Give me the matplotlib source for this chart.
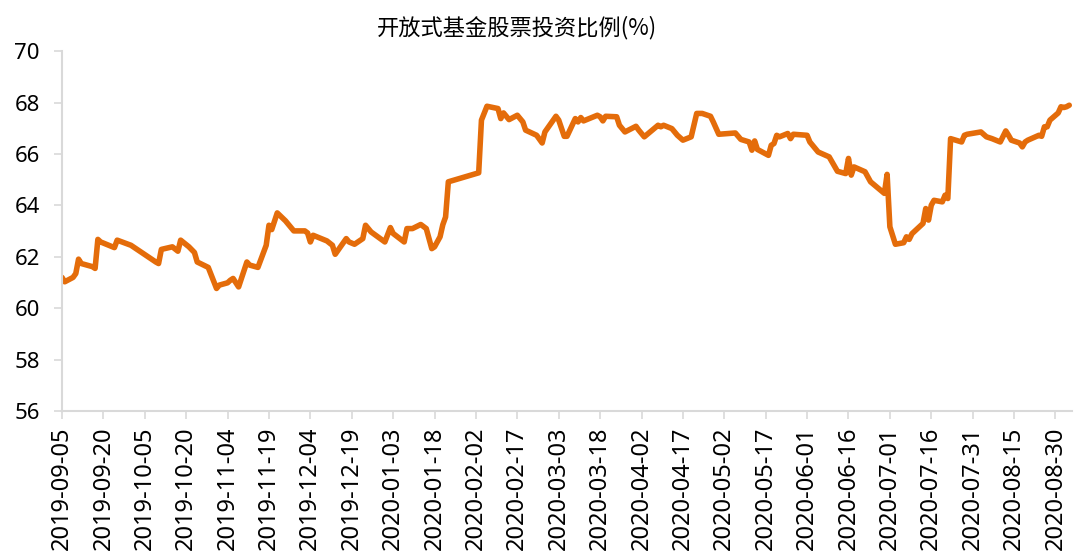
import matplotlib
matplotlib.use("Agg")
import matplotlib.pyplot as plt
import matplotlib.dates as mdates
import pandas as pd

# 开放式基金股票投资比例(%), daily readings
dates = [
    "2019-09-05", "2019-09-06", "2019-09-09", "2019-09-10", "2019-09-11", "2019-09-12",
    "2019-09-16", "2019-09-17", "2019-09-18", "2019-09-19", "2019-09-24", "2019-09-25",
    "2019-09-30", "2019-10-09", "2019-10-10", "2019-10-11", "2019-10-15", "2019-10-17",
    "2019-10-18", "2019-10-21", "2019-10-23", "2019-10-24", "2019-10-28", "2019-10-31",
    "2019-11-01", "2019-11-04", "2019-11-05", "2019-11-06", "2019-11-08", "2019-11-11",
    "2019-11-12", "2019-11-15", "2019-11-18", "2019-11-19", "2019-11-20", "2019-11-22",
    "2019-11-25", "2019-11-28", "2019-12-02", "2019-12-03", "2019-12-04", "2019-12-05",
    "2019-12-10", "2019-12-12", "2019-12-13", "2019-12-17", "2019-12-18", "2019-12-20",
    "2019-12-23", "2019-12-24", "2019-12-26", "2019-12-31", "2020-01-02", "2020-01-03",
    "2020-01-07", "2020-01-08", "2020-01-10", "2020-01-13", "2020-01-15", "2020-01-17",
    "2020-01-18", "2020-01-20", "2020-01-21", "2020-01-22", "2020-01-23", "2020-02-03",
    "2020-02-04", "2020-02-06", "2020-02-10", "2020-02-11", "2020-02-12", "2020-02-14",
    "2020-02-17", "2020-02-19", "2020-02-20", "2020-02-24", "2020-02-26", "2020-02-27",
    "2020-03-02", "2020-03-03", "2020-03-05", "2020-03-06", "2020-03-09", "2020-03-10",
    "2020-03-11", "2020-03-12", "2020-03-17", "2020-03-18", "2020-03-19", "2020-03-20",
    "2020-03-24", "2020-03-25", "2020-03-26", "2020-03-27", "2020-03-31", "2020-04-01",
    "2020-04-03", "2020-04-08", "2020-04-09", "2020-04-10", "2020-04-13", "2020-04-15",
    "2020-04-17", "2020-04-20", "2020-04-22", "2020-04-24", "2020-04-27", "2020-04-28",
    "2020-04-30", "2020-05-06", "2020-05-08", "2020-05-11", "2020-05-12", "2020-05-13",
    "2020-05-14", "2020-05-18", "2020-05-19", "2020-05-20", "2020-05-21", "2020-05-22",
    "2020-05-25", "2020-05-26", "2020-05-27", "2020-06-01", "2020-06-02", "2020-06-05",
    "2020-06-09", "2020-06-12", "2020-06-15", "2020-06-16", "2020-06-17", "2020-06-18",
    "2020-06-22", "2020-06-24", "2020-06-29", "2020-06-30", "2020-07-01", "2020-07-03",
    "2020-07-06", "2020-07-07", "2020-07-08", "2020-07-09", "2020-07-13", "2020-07-14",
    "2020-07-15", "2020-07-16", "2020-07-17", "2020-07-20", "2020-07-21", "2020-07-22",
    "2020-07-23", "2020-07-27", "2020-07-28", "2020-07-29", "2020-08-03", "2020-08-05",
    "2020-08-07", "2020-08-10", "2020-08-12", "2020-08-13", "2020-08-14", "2020-08-17",
    "2020-08-18", "2020-08-19", "2020-08-20", "2020-08-24", "2020-08-25", "2020-08-26",
    "2020-08-27", "2020-08-28", "2020-08-31", "2020-09-01", "2020-09-02", "2020-09-03",
    "2020-09-04",
]
values = [
    61.20, 61.03, 61.20, 61.35, 61.91, 61.74,
    61.62, 61.55, 62.68, 62.58, 62.36, 62.65,
    62.45, 61.80, 61.74, 62.29, 62.39, 62.22,
    62.65, 62.39, 62.17, 61.80, 61.59, 60.77,
    60.90, 60.99, 61.09, 61.16, 60.83, 61.80,
    61.68, 61.59, 62.45, 63.23, 63.06, 63.71,
    63.40, 63.01, 63.01, 62.93, 62.58, 62.84,
    62.62, 62.45, 62.10, 62.71, 62.58, 62.49,
    62.71, 63.23, 62.97, 62.58, 63.14, 62.91,
    62.58, 63.10, 63.10, 63.26, 63.10, 62.32,
    62.39, 62.78, 63.25, 63.55, 64.92, 65.27,
    67.32, 67.86, 67.77, 67.38, 67.60, 67.34,
    67.51, 67.25, 66.93, 66.73, 66.43, 66.86,
    67.47, 67.32, 66.69, 66.69, 67.38, 67.25,
    67.42, 67.29, 67.51, 67.45, 67.29, 67.47,
    67.45, 67.12, 66.99, 66.86, 67.08, 66.93,
    66.67, 67.12, 67.06, 67.12, 66.99, 66.73,
    66.54, 66.67, 67.58, 67.58, 67.47, 67.25,
    66.77, 66.82, 66.57, 66.47, 66.15, 66.51,
    66.18, 65.95, 66.34, 66.41, 66.73, 66.67,
    66.80, 66.60, 66.77, 66.73, 66.47, 66.08,
    65.89, 65.33, 65.24, 65.83, 65.18, 65.50,
    65.31, 64.92, 64.47, 65.21, 63.17, 62.49,
    62.55, 62.78, 62.68, 62.90, 63.30, 63.88,
    63.43, 64.01, 64.20, 64.14, 64.40, 64.27,
    66.60, 66.47, 66.73, 66.77, 66.86, 66.67,
    66.60, 66.47, 66.90, 66.73, 66.54, 66.43,
    66.28, 66.47, 66.54, 66.73, 66.69, 67.06,
    67.06, 67.32, 67.60, 67.84, 67.81, 67.84,
    67.90,
]

tick_start = "2019-09-05"
tick_end = "2020-08-30"
title = "开放式基金股票投资比例(%)"

x = pd.to_datetime(dates)
ticks = pd.date_range(tick_start, tick_end, freq="15D")

fig = plt.figure(figsize=(10.8, 5.57), dpi=100)
ax = fig.add_axes([0.0574, 0.262, 0.9352, 0.646])

ax.plot(x, values, color="#E46C0A", lw=4, solid_joinstyle="round", solid_capstyle="round")

ax.set_ylim(56, 70)
ax.set_yticks(range(56, 71, 2))
ax.set_xlim(pd.Timestamp("2019-09-05"), pd.Timestamp("2020-09-05"))
ax.set_xticks(ticks)
ax.xaxis.set_major_formatter(mdates.DateFormatter("%Y-%m-%d"))

for s in ["top", "right"]:
    ax.spines[s].set_visible(False)
ax.spines["left"].set_color("#d9d9d9")
ax.spines["bottom"].set_color("#d9d9d9")
ax.spines["left"].set_linewidth(1.5)
ax.spines["bottom"].set_linewidth(1.5)
ax.tick_params(axis="both", colors="#d9d9d9", width=1.2, length=6, labelcolor="black")
ax.tick_params(axis="y", labelsize=16, pad=10)
ax.tick_params(axis="x", labelsize=17, rotation=90, pad=5)
for lab in ax.get_xticklabels() + ax.get_yticklabels():
    lab.set_family(["Noto Sans", "DejaVu Sans"])

fig.text(0.479, 0.95, title, ha="center", va="center", fontsize=16,
         family=["Noto Sans CJK SC", "DejaVu Sans"])

fig.savefig("out.png", dpi=100)
